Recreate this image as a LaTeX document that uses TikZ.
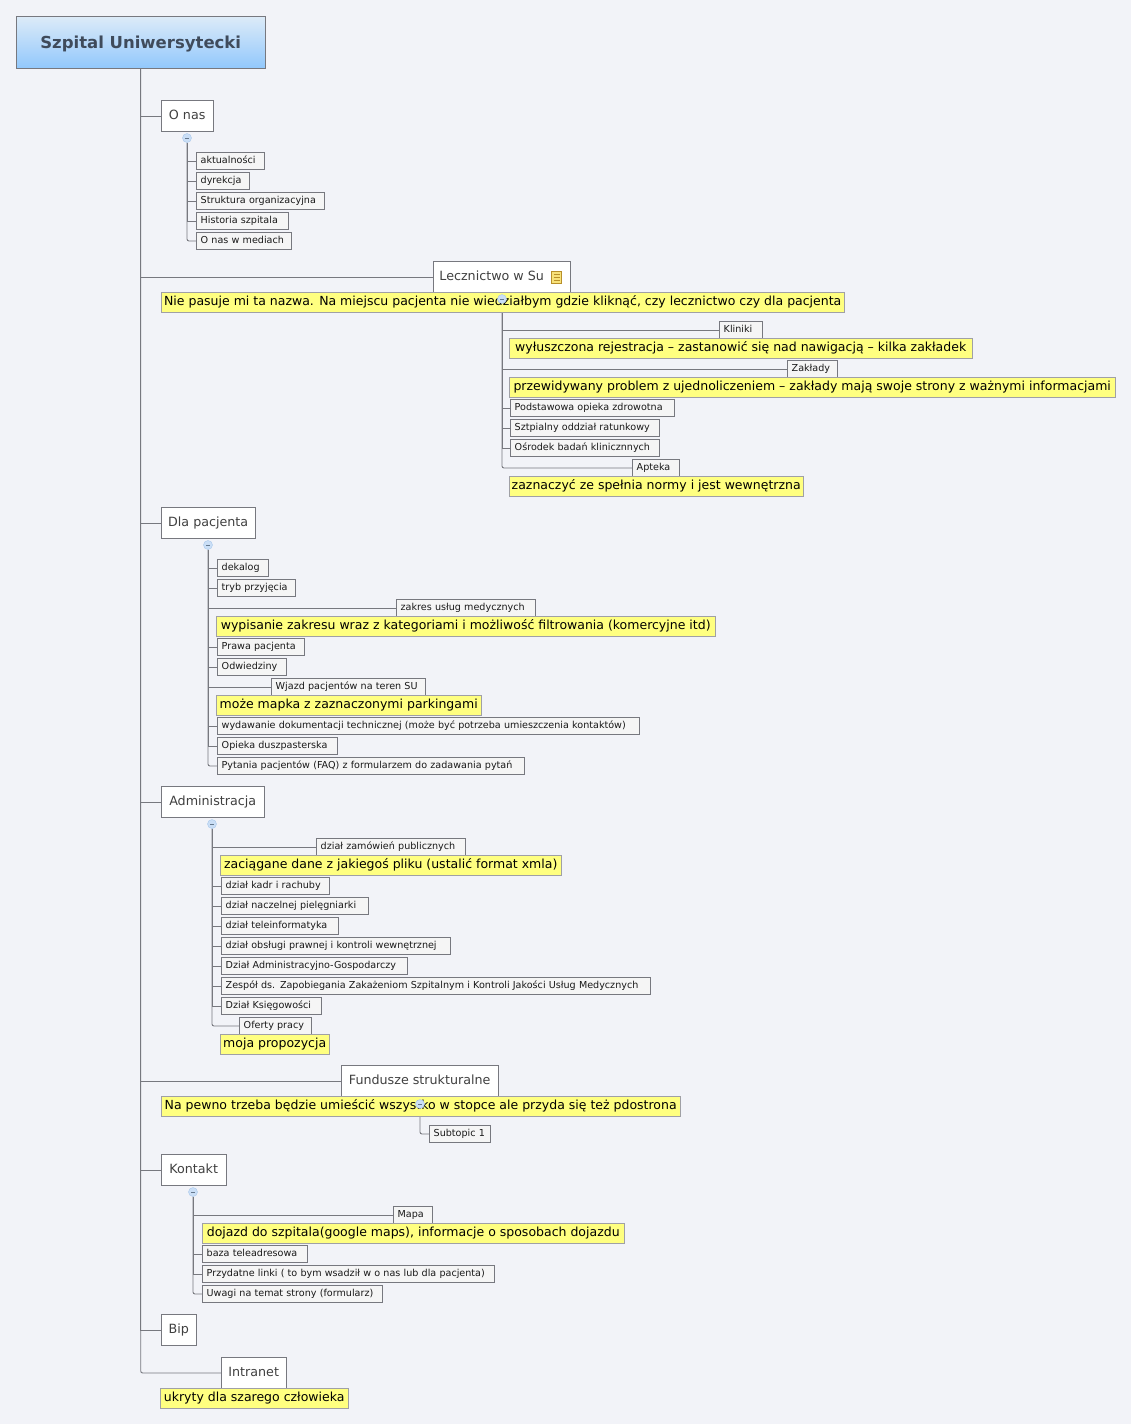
\documentclass[tikz,border=0pt]{standalone}
\usepackage{fontspec}
\setmainfont{DejaVu Sans}
\usetikzlibrary{backgrounds}
\definecolor{pagebg}{HTML}{F2F3F8}
\definecolor{edge}{HTML}{77787F}
\definecolor{notefill}{HTML}{FFFF80}
\definecolor{rootink}{HTML}{3F4B5B}
\definecolor{rootTop}{HTML}{DDEBF8}
\definecolor{rootBottom}{HTML}{92C8FC}
\definecolor{foldfill}{HTML}{CADEF6}
\definecolor{foldedge}{HTML}{A9C8EC}
\definecolor{iconfill}{HTML}{F8E27A}
\definecolor{iconedge}{HTML}{B8902A}
\tikzset{
    root/.style={draw=edge, top color=rootTop, bottom color=rootBottom, text=rootink, anchor=west, minimum height=52, inner sep=0pt, text height=14pt, text depth=2pt, font=\fontsize{16.5}{19}\selectfont\bfseries},
    topic/.style={draw=edge, fill=white, text=black!75, anchor=west, minimum height=31, inner sep=0pt, text height=9.5pt, text depth=2.5pt, font=\fontsize{12.7}{15}\selectfont},
    sub/.style={draw=edge, fill=white!96!black, text=black!90, anchor=west, minimum height=17, inner xsep=4.5pt, inner ysep=0pt, align=left, text height=7.5pt, text depth=2pt, font=\fontsize{9.6}{11}\selectfont},
    w/.code={\pgfmathsetmacro\boxw{#1-9}\tikzset{text width/.expanded=\boxw pt}},
    note/.style={draw=edge!70, fill=notefill, text=black, anchor=west, minimum height=20, inner sep=0pt, text height=9.5pt, text depth=2.5pt, font=\fontsize{12.5}{15}\selectfont},
    fold/.style={circle, draw=foldedge, fill=foldfill, minimum size=9, inner sep=0pt,
        path picture={\draw[foldedge!60!black, line width=0.6pt] ([xshift=-2pt]path picture bounding box.center) -- ([xshift=2pt]path picture bounding box.center);}},
    link/.style={draw=edge, line width=0.9pt},
}
\begin{document}
\begin{tikzpicture}[x=1pt, y=-1pt]
    \node[root, minimum width=249] (root) at (16,42) {Szpital Uniwersytecki};

    \node[topic, minimum width=52] (onas) at (161,116) {O nas};
    \node[fold] (onasfold) at (187,138) {};
    \node[sub, w=68] (aktual) at (196,161) {aktualności};
    \node[sub, w=53] (dyrek) at (196,181) {dyrekcja};
    \node[sub, w=128] (strukt) at (196,201) {Struktura organizacyjna};
    \node[sub, w=92] (hist) at (196,221) {Historia szpitala};
    \node[sub, w=95] (media) at (196,241) {O nas w mediach};

    \node[topic, minimum width=137] (lecz) at (433,277) {Lecznictwo w Su\hspace{20pt}\mbox{}};
    \node[draw=iconedge, fill=iconfill, minimum width=10, minimum height=12, inner sep=0pt] (leczicon) at (556.5,277) {};
    \node[note, minimum width=683] (lecznote) at (161,302) {Nie pasuje mi ta nazwa. Na miejscu pacjenta nie wiedziałbym gdzie kliknąć, czy lecznictwo czy dla pacjenta};
    \node[fold] (leczfold) at (502,299) {};
    \node[sub, w=43] (klin) at (719,330) {Kliniki};
    \node[note, minimum width=463] (klinnote) at (509,348) {wyłuszczona rejestracja -- zastanowić się nad nawigacją -- kilka zakładek};
    \node[sub, w=50] (zakl) at (787,369) {Zakłady};
    \node[note, minimum width=606] (zaklnote) at (509,387) {przewidywany problem z ujednoliczeniem -- zakłady mają swoje strony z ważnymi informacjami};
    \node[sub, w=164] (podst) at (510,408) {Podstawowa opieka zdrowotna};
    \node[sub, w=149] (sztp) at (510,428) {Sztpialny oddział ratunkowy};
    \node[sub, w=149] (osrod) at (510,448) {Ośrodek badań klinicznnych};
    \node[sub, w=47] (aptek) at (632,468) {Apteka};
    \node[note, minimum width=294] (apteknote) at (509,486) {zaznaczyć ze spełnia normy i jest wewnętrzna};

    \node[topic, minimum width=94] (pacj) at (161,523) {Dla pacjenta};
    \node[fold] (pacjfold) at (208,545) {};
    \node[sub, w=51] (dekal) at (217,568) {dekalog};
    \node[sub, w=78] (tryb) at (217,588) {tryb przyjęcia};
    \node[sub, w=139] (zakres) at (396,608) {zakres usług medycznych};
    \node[note, minimum width=499] (zakresnote) at (216,626) {wypisanie zakresu wraz z kategoriami i możliwość filtrowania (komercyjne itd)};
    \node[sub, w=87] (prawa) at (217,647) {Prawa pacjenta};
    \node[sub, w=69] (odwiedz) at (217,667) {Odwiedziny};
    \node[sub, w=154] (wjazd) at (271,687) {Wjazd pacjentów na teren SU};
    \node[note, minimum width=265] (wjazdnote) at (216,705) {może mapka z zaznaczonymi parkingami};
    \node[sub, w=422] (wydaw) at (217,726) {wydawanie dokumentacji technicznej (może być potrzeba umieszczenia kontaktów)};
    \node[sub, w=120] (opieka) at (217,746) {Opieka duszpasterska};
    \node[sub, w=307] (pytania) at (217,766) {Pytania pacjentów (FAQ) z formularzem do zadawania pytań};

    \node[topic, minimum width=103] (admin) at (161,802) {Administracja};
    \node[fold] (adminfold) at (212,824) {};
    \node[sub, w=149] (zamow) at (316,847) {dział zamówień publicznych};
    \node[note, minimum width=341] (zamownote) at (220,865) {zaciągane dane z jakiegoś pliku (ustalić format xmla)};
    \node[sub, w=108] (kadr) at (221,886) {dział kadr i rachuby};
    \node[sub, w=147] (piel) at (221,906) {dział naczelnej pielęgniarki};
    \node[sub, w=117] (tele) at (221,926) {dział teleinformatyka};
    \node[sub, w=229] (prawna) at (221,946) {dział obsługi prawnej i kontroli wewnętrznej};
    \node[sub, w=186] (gosp) at (221,966) {Dział Administracyjno-Gospodarczy};
    \node[sub, w=429] (zespol) at (221,986) {Zespół ds. Zapobiegania Zakażeniom Szpitalnym i Kontroli Jakości Usług Medycznych};
    \node[sub, w=100] (ksieg) at (221,1006) {Dział Księgowości};
    \node[sub, w=72] (oferty) at (239,1026) {Oferty pracy};
    \node[note, minimum width=109] (ofertynote) at (220,1044) {moja propozycja};

    \node[topic, minimum width=157] (fund) at (341,1081) {Fundusze strukturalne};
    \node[note, minimum width=519] (fundnote) at (161,1106) {Na pewno trzeba będzie umieścić wszystko w stopce ale przyda się też pdostrona};
    \node[fold] (fundfold) at (420,1104) {};
    \node[sub, w=61] (subtop) at (429,1134) {Subtopic 1};

    \node[topic, minimum width=65] (kont) at (161,1170) {Kontakt};
    \node[fold] (kontfold) at (193,1192) {};
    \node[sub, w=39] (mapa) at (393,1215) {Mapa};
    \node[note, minimum width=422] (mapanote) at (202,1233) {dojazd do szpitala(google maps), informacje o sposobach dojazdu};
    \node[sub, w=105] (baza) at (202,1254) {baza teleadresowa};
    \node[sub, w=292] (linki) at (202,1274) {Przydatne linki ( to bym wsadził w o nas lub dla pacjenta)};
    \node[sub, w=180] (uwagi) at (202,1294) {Uwagi na temat strony (formularz)};

    \node[topic, minimum width=35] (bip) at (161,1330) {Bip};
    \node[topic, minimum width=65] (intra) at (221,1373) {Intranet};
    \node[note, minimum width=188] (intranote) at (160,1398) {ukryty dla szarego człowieka};

    % lines on the note icon
    \foreach \dy in {-3,0,3}
        \draw[iconedge, line width=0.5pt] ([xshift=-3pt,yshift=\dy pt]leczicon.center) -- ([xshift=3pt,yshift=\dy pt]leczicon.center);

\begin{pgfonlayer}{background}
    \fill[pagebg] (0,0) rectangle (1131,1424);
    % main trunk
    \foreach \t in {onas,lecz,pacj,admin,fund,kont,bip}
        \draw[link] (root.south) |- (\t.west);
    \draw[link, rounded corners=2pt] (root.south) |- (intra.west);
    % branches
    \foreach \t in {aktual,dyrek,strukt,hist}
        \draw[link] (onasfold) |- (\t.west);
    \draw[link, rounded corners=2pt] (onasfold) |- (media.west);
    \foreach \t in {klin,zakl,podst,sztp,osrod}
        \draw[link] (leczfold) |- (\t.west);
    \draw[link, rounded corners=2pt] (leczfold) |- (aptek.west);
    \foreach \t in {dekal,tryb,zakres,prawa,odwiedz,wjazd,wydaw,opieka}
        \draw[link] (pacjfold) |- (\t.west);
    \draw[link, rounded corners=2pt] (pacjfold) |- (pytania.west);
    \foreach \t in {zamow,kadr,piel,tele,prawna,gosp,zespol,ksieg}
        \draw[link] (adminfold) |- (\t.west);
    \draw[link, rounded corners=2pt] (adminfold) |- (oferty.west);
    \draw[link, rounded corners=2pt] (fundfold) |- (subtop.west);
    \foreach \t in {mapa,baza,linki}
        \draw[link] (kontfold) |- (\t.west);
    \draw[link, rounded corners=2pt] (kontfold) |- (uwagi.west);
\end{pgfonlayer}
\end{tikzpicture}
\end{document}
